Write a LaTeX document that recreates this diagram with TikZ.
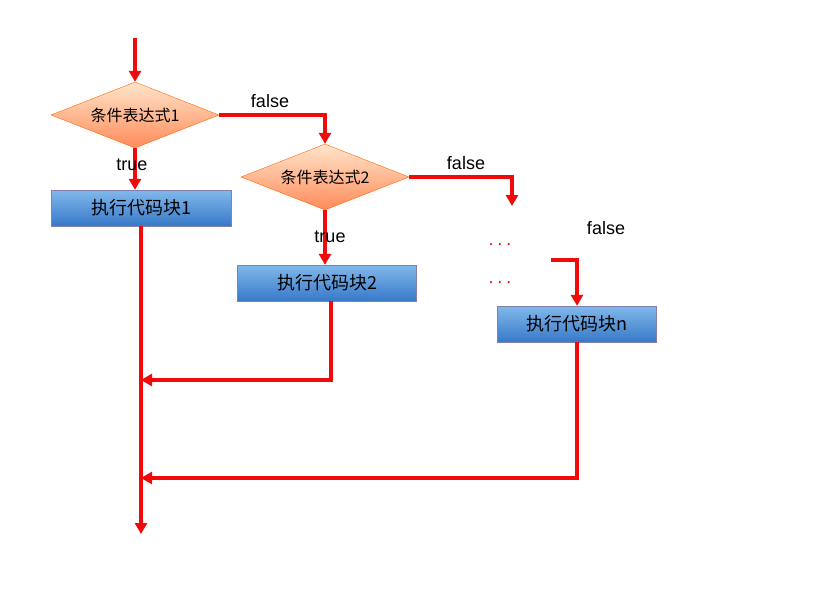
\documentclass[tikz,border=0pt]{standalone}
\usepackage{fontspec}
\setmainfont{Liberation Sans}
\newfontfamily\cjk{Noto Sans CJK SC}
\usetikzlibrary{shapes.geometric,arrows.meta}
\definecolor{lred}{RGB}{240,10,10}
\definecolor{btop}{RGB}{130,185,235}
\definecolor{bbot}{RGB}{55,120,200}
\tikzset{
 x=1pt,y=-1pt,
 flow/.style={draw=lred,line width=3.2pt,-{Triangle[length=11pt,width=12pt]}},
 plain/.style={draw=lred,line width=3.2pt},
 cond/.style={diamond,aspect=2.55,minimum width=168pt,minimum height=66pt,inner sep=0pt,draw=orange!80!red,thin,top color=orange!20,bottom color=orange!60!red!65,font=\cjk\fontsize{16}{16}\selectfont},
 act/.style={rectangle,minimum height=36pt,draw=blue!40!black!50,thin,top color=btop,bottom color=bbot,font=\cjk\fontsize{18}{18}\selectfont},
 lbl/.style={font=\fontsize{18}{18}\selectfont,inner sep=0pt},
}
\begin{document}
\begin{tikzpicture}
\useasboundingbox (0,0) rectangle (822,607);
\coordinate (start) at (135,38);
\node[cond] (d1) at (135,115) {条件表达式1};
\node[cond] (d2) at (325,177) {条件表达式2};
\node[act,minimum width=180pt] (b1) at (141,208) {执行代码块1};
\node[act,minimum width=179pt] (b2) at (327,283) {执行代码块2};
\node[act,minimum width=159pt] (bn) at (577,324) {执行代码块n};
\coordinate (f2) at (512,206);
\coordinate (fn) at (551,260);
\coordinate (m1) at (141,380);
\coordinate (m2) at (141,478);
\coordinate (end) at (141,534);
\draw[flow] (start) -- (d1.north);
\draw[flow] (d1.south) -- (d1.south |- b1.north);
\draw[flow] (d1.east) -| (d2.north);
\draw[flow] (d2.east) -| (f2);
\draw[flow] (d2.south) -- (d2.south |- b2.north);
\draw[flow] (fn) -| (bn.north);
\draw[flow] (b1.south -| end) -- (end);
\draw[flow] (b2.south -| 331,0) |- (m1);
\draw[flow] (bn.south) |- (m2);
\node[lbl] (t1) at (132,165) {true};
\node[lbl] (t2) at (330,237) {true};
\node[lbl] (fa1) at (270,101) {false};
\node[lbl] (fa2) at (466,163) {false};
\node[lbl] (fa3) at (606,228) {false};
\node[lbl,text=lred] (dots1) at (500,247) {·\,·\,·};
\node[lbl,text=lred] (dots2) at (500,285) {·\,·\,·};
\end{tikzpicture}
\end{document}
